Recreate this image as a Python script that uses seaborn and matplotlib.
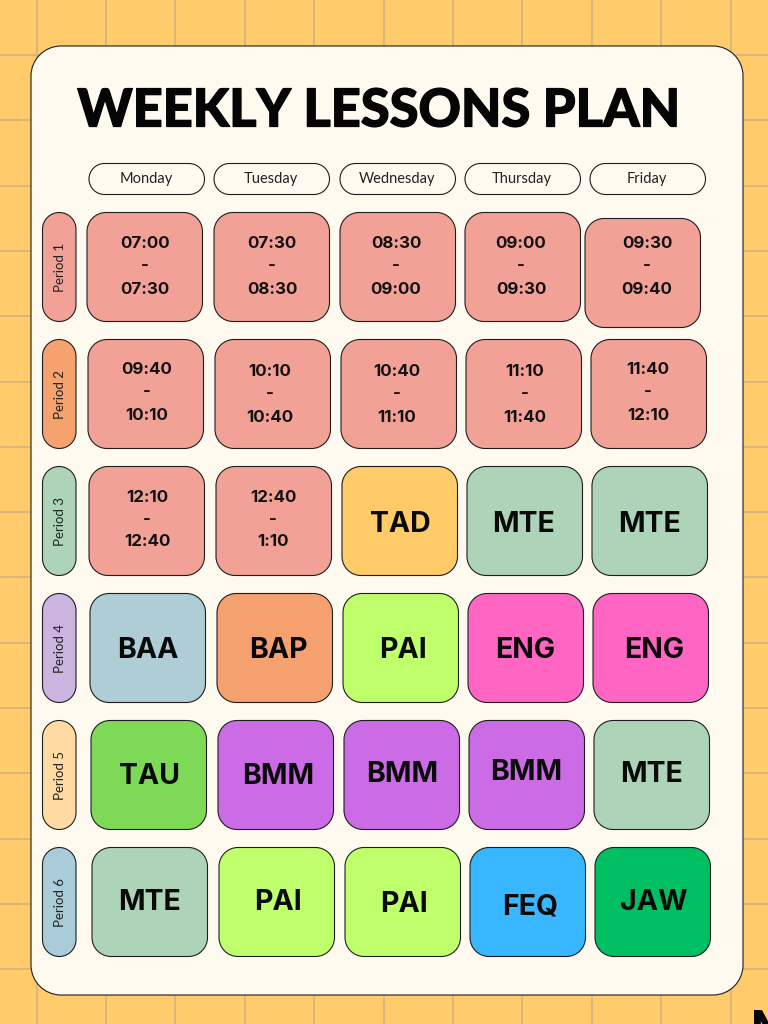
import numpy as np
import pandas as pd
import seaborn as sns
import matplotlib.pyplot as plt
import matplotlib.patheffects as pe
from matplotlib.path import Path
from matplotlib.patches import PathPatch

days = ['Monday', 'Tuesday', 'Wednesday', 'Thursday', 'Friday']
periods = ['Period 1', 'Period 2', 'Period 3', 'Period 4', 'Period 5', 'Period 6']
period1 = ['07:00\n-\n07:30', '07:30\n-\n08:30', '08:30\n-\n09:00', '09:00\n-\n09:30', '09:30\n-\n09:40']
period2 = ['09:40\n-\n10:10', '10:10\n-\n10:40', '10:40\n-\n11:10', '11:10\n-\n11:40', '11:40\n-\n12:10']
period3 = ['12:10\n-\n12:40', '12:40\n-\n1:10', 'TAD', 'MTE', 'MTE']
period4 = ['BAA', 'BAP', 'PAI', 'ENG', 'ENG']
period5 = ['TAU', 'BMM', 'BMM', 'BMM', 'MTE']
period6 = ['MTE', 'PAI', 'PAI', 'FEQ', 'JAW']
title = 'WEEKLY LESSONS PLAN'

subject_colors = {'TAD': '#FFCB69', 'MTE': '#ADD4B8', 'BAA': '#AECDD6', 'BAP': '#F5A06F',
                  'PAI': '#BEFF6B', 'ENG': '#FF66C4', 'TAU': '#7ED957', 'BMM': '#CB6CE6',
                  'FEQ': '#38B6FF', 'JAW': '#00BF63'}
time_color = '#F2A196'
period_colors = sns.color_palette(['#F2A196', '#F5A26E', '#ADD4B8', '#CBB5E0', '#FFDBA3', '#A9CCD8'])

# hand nudges, the boxes in the original are not quite on a grid
box_nudge = {(0, 4): (-5, 6)}
text_nudge = {(0, 0): (0, 0), (0, 1): (0, 0), (0, 2): (-2, 0), (0, 3): (-2, 0), (0, 4): (4, -6),
              (1, 0): (1, -1), (1, 1): (-3, 1), (1, 2): (-2, 1), (1, 3): (1, 1), (1, 4): (-1, -1),
              (2, 0): (0, -1), (2, 1): (-1, -1), (2, 2): (0, 1), (2, 3): (-1, 1), (2, 4): (0, 1),
              (3, 1): (3, 0), (3, 2): (2, 0), (3, 3): (-1, 0), (3, 4): (3, 0),
              (4, 1): (2, 0), (4, 2): (0, -3), (4, 3): (-1, -4), (4, 4): (0, -3),
              (5, 0): (0, -1), (5, 1): (1, -1), (5, 2): (1, 1), (5, 3): (2, 3), (5, 4): (1, -1)}

sns.set_theme(style='whitegrid', rc={'axes.facecolor': '#FFCB6B', 'figure.facecolor': '#FFCB6B',
                                     'grid.color': '#CDB27C', 'grid.linewidth': 1.1,
                                     'axes.axisbelow': True})

fig = plt.figure(figsize=(7.68, 10.24), dpi=100)
ax = fig.add_axes([0, 0, 1, 1])
ax.set_xlim(0, 768)
ax.set_ylim(1024, 0)
ax.set_xticks(36.5 + 69.4 * np.arange(11))
ax.set_yticks(55 + 65.3 * np.arange(15))
ax.tick_params(length=0, labelbottom=False, labelleft=False)
sns.despine(ax=ax, left=True, bottom=True)

INK = '#1E1E1E'
KAPPA = 0.5523
heavy = [pe.withStroke(linewidth=0.9, foreground='#050505')]


def rbox(x, y, w, h, r, color, lw=0.8):
    # true circular corners, FancyBboxPatch round corners look too square here
    k = r * (1 - KAPPA)
    x1, y1 = x + w, y + h
    verts = [(x + r, y), (x1 - r, y), (x1 - k, y), (x1, y + k), (x1, y + r),
             (x1, y1 - r), (x1, y1 - k), (x1 - k, y1), (x1 - r, y1),
             (x + r, y1), (x + k, y1), (x, y1 - k), (x, y1 - r),
             (x, y + r), (x, y + k), (x + k, y), (x + r, y), (x + r, y)]
    codes = [Path.MOVETO, Path.LINETO, Path.CURVE4, Path.CURVE4, Path.CURVE4,
             Path.LINETO, Path.CURVE4, Path.CURVE4, Path.CURVE4,
             Path.LINETO, Path.CURVE4, Path.CURVE4, Path.CURVE4,
             Path.LINETO, Path.CURVE4, Path.CURVE4, Path.CURVE4, Path.CLOSEPOLY]
    ax.add_patch(PathPatch(Path(verts, codes), fc=color, ec=INK, lw=lw, zorder=2))


rbox(31, 46, 712, 949, 30, '#FFFAF0')
ax.text(379, 112, title, ha='center', va='center', fontsize=37.7, family='Lato',
        weight='black', color='#050505', zorder=3, path_effects=heavy)
ax.text(750, 1047, 'M', ha='left', va='baseline', fontsize=37.5, family='Lato',
        weight='black', color='#050505', zorder=3)

day_x = [89, 214, 340, 465, 590]
cell_x = [87, 214, 340, 465, 590]
for x, day in zip(day_x, days):
    rbox(x, 163.5, 115.5, 31, 15.5, '#FFFAF0')
    ax.text(x + 57, 179, day, ha='center', va='center', fontsize=10.5, family='Lato',
            color='#222222', zorder=3)

rows = [period1, period2, period3, period4, period5, period6]
grid = pd.DataFrame(rows, index=periods, columns=days)

for r, period in enumerate(periods):
    y0 = 212.5 + 127 * r
    rbox(42.5, y0, 33.5, 109, 16.7, period_colors[r])
    ax.text(60, y0 + 55, period, ha='center', va='center', rotation=90, fontsize=9.5,
            family='Lato', color='#222222', zorder=3)
    for c, day in enumerate(days):
        label = grid.loc[period, day]
        dx, dy = box_nudge.get((r, c), (0, 0))
        x0 = cell_x[c] + r
        rbox(x0 + dx, y0 + dy, 115.5, 109, 19, subject_colors.get(label, time_color))
        tx, ty = text_nudge.get((r, c), (0, 0))
        cx = x0 + dx + 58 + tx
        cy = y0 + dy + 54.5 + ty
        if '\n' in label:
            for line, off in zip(label.split('\n'), (-23, -1, 22)):
                ax.text(cx, cy + off, line, ha='center', va='center', fontsize=12.2,
                        family='Inter', weight='bold', color='#111111', zorder=3)
        else:
            ax.text(cx, cy + 2, label, ha='center', va='center', fontsize=20.5,
                    family='Inter', weight='bold', color='#0A0A0A', zorder=3)

fig.savefig('out.png', dpi=100)
